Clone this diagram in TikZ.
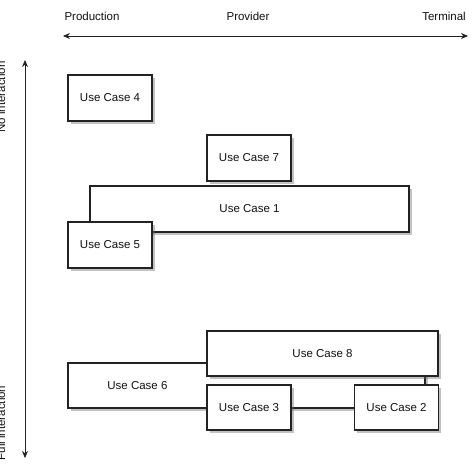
\documentclass[tikz,border=0pt]{standalone}
\usepackage{fontspec}
\setmainfont{Liberation Sans}
\usetikzlibrary{arrows.meta, positioning, shadows}
\definecolor{borde}{HTML}{222222}
\definecolor{texto}{HTML}{111111}
\tikzset{
  every picture/.style={font=\fontsize{11.5}{13}\selectfont, >=Stealth},
  caso/.style={draw=borde, text=texto, fill=white, line width=1.1pt,
               minimum width=84pt, minimum height=46pt, inner sep=0pt,
               drop shadow={opacity=0.4, fill=black!60, shadow xshift=2.5pt, shadow yshift=-3pt}},
  eje/.style={{Stealth[length=7pt,width=6pt]}-{Stealth[length=7pt,width=6pt]}, line width=0.8pt, borde},
  rotulo/.style={text=texto, inner sep=0pt},
}
\begin{document}
\begin{tikzpicture}[x=1pt, y=-1pt]
  \useasboundingbox (0,0) rectangle (474,474);
  % ejes
  \node[rotulo] (prod) at (92,16) {Production};
  \node[rotulo] (prov) at (248,16) {Provider};
  \node[rotulo] (term) at (444,16) {Terminal};
  \coordinate (izq) at (63,36); \coordinate (der) at (468,36);
  \draw[eje] (izq) -- (der);
  \coordinate (arr) at (25,60); \coordinate (aba) at (25,458);
  \draw[eje] (arr) -- (aba);
  \node[rotulo, rotate=90] (nint) at (1,97) {No interaction};
  \node[rotulo, rotate=90] (fint) at (1,423) {Full interaction};
  % casos
  \node[caso] (uc4) at (110,98) {Use Case 4};
  \node[caso] (uc7) at (249,158) {Use Case 7};
  \node[caso, minimum width=319pt] (uc1) at (249.5,209) {Use Case 1};
  \node[caso] (uc5) at (110,245) {Use Case 5};
  \node[caso, minimum width=357pt, minimum height=45pt] (uc6) at (246.5,385.5) {};
  \node[rotulo] (uc6t) at ([xshift=70pt]uc6.west) {Use Case 6};
  \node[caso, minimum width=231pt, minimum height=45pt] (uc8) at (322.5,353.5) {Use Case 8};
  \node[caso, minimum height=45pt] (uc3) at (249,407.5) {Use Case 3};
  \node[caso, minimum height=45pt] (uc2) at (396.5,407.5) {Use Case 2};
\end{tikzpicture}
\end{document}
